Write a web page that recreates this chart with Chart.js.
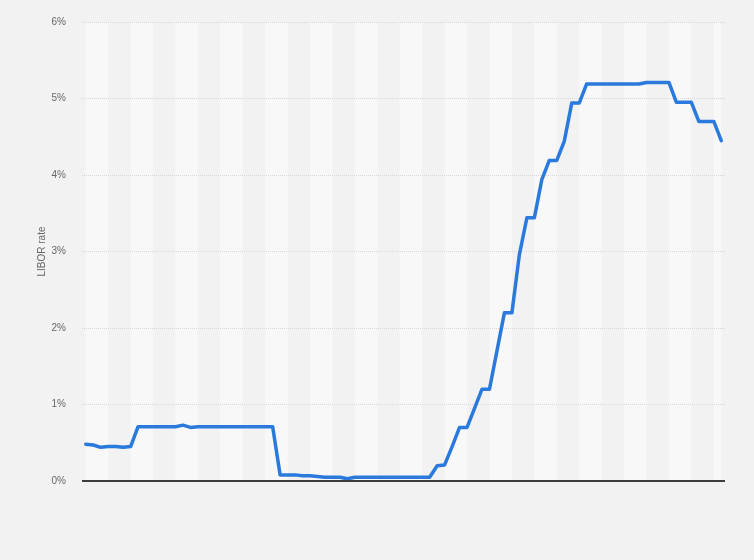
<!DOCTYPE html>
<html>
<head>
<meta charset="utf-8">
<script src="https://cdn.jsdelivr.net/npm/chart.js@4"></script>
<style>
  html, body { margin: 0; padding: 0; background: #f2f2f2; }
  #wrap { width: 754px; height: 560px; }
</style>
</head>
<body>
<div id="wrap"><canvas id="liborChart" width="754" height="560"></canvas></div>
<script>
// LIBOR rate, values in percent
const tasas = [
  0.48, 0.47, 0.44, 0.45, 0.45, 0.44, 0.45,
  0.71, 0.71, 0.71, 0.71, 0.71, 0.71, 0.73, 0.70,
  0.71, 0.71, 0.71, 0.71, 0.71, 0.71, 0.71, 0.71, 0.71, 0.71, 0.71,
  0.08, 0.08, 0.08, 0.07, 0.07, 0.06, 0.05, 0.05, 0.05, 0.03,
  0.05, 0.05, 0.05, 0.05, 0.05, 0.05, 0.05, 0.05, 0.05, 0.05, 0.05,
  0.20, 0.21, 0.45, 0.70, 0.70, 0.95, 1.20, 1.20, 1.70, 2.20, 2.20,
  2.96, 3.44, 3.44, 3.94, 4.19, 4.19, 4.44, 4.94, 4.94,
  5.19, 5.19, 5.19, 5.19, 5.19, 5.19, 5.19, 5.19,
  5.21, 5.21, 5.21, 5.21,
  4.95, 4.95, 4.95,
  4.70, 4.70, 4.70,
  4.45
];
// x labels are not shown in the picture
const periodos = tasas.map((_, i) => String(i + 1));
const ticksY = [0, 1, 2, 3, 4, 5, 6];
const tituloY = "LIBOR rate";

const fondoPlugin = {
  id: "fondo",
  beforeDraw(chart) {
    const { ctx, chartArea, width, height } = chart;
    const x = chart.scales.x;
    ctx.save();
    ctx.fillStyle = "#f2f2f2";
    ctx.fillRect(0, 0, width, height);
    // alternating bands, three points each
    for (let j = 0, b = 0; j < tasas.length - 1; j += 3, b++) {
      if (b % 2 !== 0) continue;
      const x0 = x.getPixelForValue(j);
      const x1 = x.getPixelForValue(Math.min(j + 3, tasas.length - 1));
      ctx.fillStyle = "#f8f8f8";
      ctx.fillRect(x0, chartArea.top, x1 - x0, chartArea.bottom - chartArea.top);
    }
    ctx.restore();
  },
  afterDraw(chart) {
    const { ctx, chartArea } = chart;
    const y0 = chart.scales.y.getPixelForValue(0);
    ctx.save();
    ctx.strokeStyle = "#3d3d3d";
    ctx.lineWidth = 2;
    ctx.beginPath();
    ctx.moveTo(chartArea.left, y0);
    ctx.lineTo(chartArea.right, y0);
    ctx.stroke();
    ctx.restore();
  }
};

new Chart(document.getElementById("liborChart"), {
  type: "line",
  data: {
    labels: periodos,
    datasets: [{
      label: tituloY,
      data: tasas,
      borderColor: "#2a79dc",
      borderWidth: 3.5,
      pointRadius: 0,
      tension: 0,
      borderJoinStyle: "round",
      borderCapStyle: "round",
      fill: false
    }]
  },
  options: {
    responsive: false,
    animation: false,
    layout: { padding: { left: 0, right: 29, top: 20, bottom: 79 } },
    plugins: {
      legend: { display: false },
      tooltip: { enabled: false }
    },
    scales: {
      x: {
        type: "category",
        display: false,
        offset: true
      },
      y: {
        min: 0,
        max: 6,
        afterFit(scale) { scale.width = 82; },
        afterBuildTicks(scale) { scale.ticks = ticksY.map(v => ({ value: v })); },
        ticks: {
          padding: 16,
          color: "#666666",
          font: { family: "'Liberation Sans', Arial, sans-serif", size: 10 },
          callback: v => v + "%"
        },
        grid: {
          drawTicks: false,
          color: ctx => (ctx.tick && ctx.tick.value === 0 ? "rgba(0,0,0,0)" : "#d6d6d6"),
          lineWidth: 1
        },
        border: { display: false, dash: [1, 1] },
        title: {
          display: true,
          text: tituloY,
          color: "#666666",
          font: { family: "'Liberation Sans', Arial, sans-serif", size: 10 },
          padding: { top: 36, bottom: 0 }
        }
      }
    }
  },
  plugins: [fondoPlugin]
});
</script>
</body>
</html>
